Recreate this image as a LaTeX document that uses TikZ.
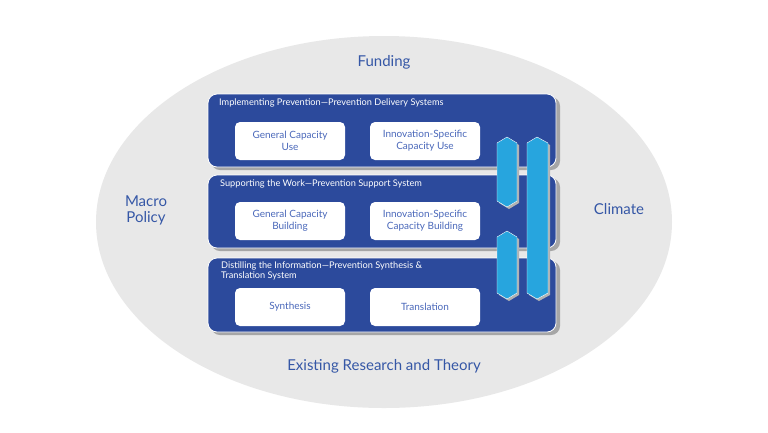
\documentclass[tikz,border=0pt]{standalone}
\usepackage{fontspec}
\setmainfont{Lato}
\usetikzlibrary{shapes.geometric}
\begin{document}
\begin{tikzpicture}[x=1pt,y=-1pt,
  panel/.style={fill=panelblue, draw=white, line width=0.8pt, rounded corners=9pt},
  shadowp/.style={fill=black!35, rounded corners=9pt},
  inner/.style={fill=white, rounded corners=5pt, minimum width=110pt, minimum height=38pt, text=txtblue, font=\fontsize{10}{12}\selectfont, align=center, inner sep=1pt},
  ttl/.style={anchor=north west, text=white, font=\fontsize{9.2}{10}\selectfont, align=left, inner sep=0pt},
  outer/.style={text=outblue, font=\fontsize{15}{16}\selectfont, align=center},
  hexa/.style={fill=hexblue, draw=white, line width=0.4pt}]
\definecolor{panelblue}{HTML}{2C4A9C}
\definecolor{txtblue}{HTML}{4A68BA}
\definecolor{outblue}{HTML}{3557A6}
\definecolor{hexblue}{HTML}{27A5DE}
\definecolor{ellgray}{HTML}{E8E8E8}
\useasboundingbox (0,0) rectangle (768,432);
\fill[white] (0,0) rectangle (768,432);
\node[ellipse, fill=ellgray, minimum width=576pt, minimum height=372pt, inner sep=0pt] (ell) at (384,222) {};
% panels
\foreach \t/\b/\n in {94/167/p1,175/248/p2,258/332/p3}{
  \fill[shadowp] (211,\t+3) rectangle (560,\b+3);
  \draw[panel] (208,\t) rectangle (556,\b);
}
\node[ttl] (t1) at (219,99) {Implementing Prevention—Prevention Delivery Systems};
\node[ttl] (t2) at (220,180) {Supporting the Work—Prevention Support System};
\node[ttl] (t3) at (221,262) {Distilling the Information—Prevention Synthesis \&\\Translation System};
\node[inner] (a1) at (290,141) {General Capacity\\Use};
\node[inner] (a2) at (425,141) {Innovation-Specific\\Capacity Use};
\node[inner] (b1) at (290,221) {General Capacity\\Building};
\node[inner] (b2) at (425,221) {Innovation-Specific\\Capacity Building};
\node[inner] (c1) at (290,307) {Synthesis};
\node[inner] (c2) at (425,307) {Translation};
% hex arrows
\fill[black!30] (499,145) -- (509,139) -- (519,145) -- (519,203) -- (509,209) -- (499,203) -- cycle;
\draw[hexa] (497,143) -- (507,137) -- (517,143) -- (517,201) -- (507,207) -- (497,201) -- cycle;
\fill[black!30] (499,239) -- (509,233) -- (519,239) -- (519,295) -- (509,301) -- (499,295) -- cycle;
\draw[hexa] (497,237) -- (507,231) -- (517,237) -- (517,293) -- (507,299) -- (497,293) -- cycle;
\fill[black!30] (529,145) -- (539,139) -- (550,145) -- (550,295) -- (539,301) -- (529,295) -- cycle;
\draw[hexa] (527,143) -- (537,137) -- (548,143) -- (548,293) -- (537,299) -- (527,293) -- cycle;
% outer labels
\node[outer] (fund) at (384,62) {Funding};
\node[outer] (macro) at (146,210) {Macro\\Policy};
\node[outer] (clim) at (619,209) {Climate};
\node[outer] (exist) at (384,366) {Existing Research and Theory};
\end{tikzpicture}
\end{document}
